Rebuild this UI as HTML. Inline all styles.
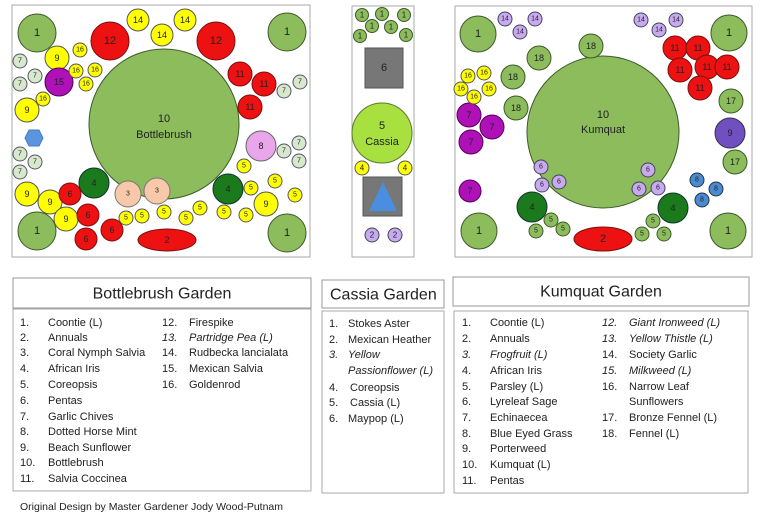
<!DOCTYPE html>
<html><head><meta charset="utf-8"><style>
body{margin:0;background:#fff;}
svg{display:block;font-family:"Liberation Sans",sans-serif;}
.g{fill:#8cbc5c;stroke:#3d5a2c;stroke-width:1}
.r{fill:#ee1111;stroke:#7a1010;stroke-width:1}
.y{fill:#ffff00;stroke:#555;stroke-width:1}
.p{fill:#d8e8cc;stroke:#556;stroke-width:1}
.dg{fill:#1b7a1b;stroke:#133;stroke-width:1}
.pe{fill:#f8c8a8;stroke:#777;stroke-width:1}
.pk{fill:#eaa6ea;stroke:#666;stroke-width:1}
.m{fill:#b010b8;stroke:#505;stroke-width:1}
.l{fill:#c8aaf0;stroke:#445;stroke-width:1}
.b{fill:#4a8ad0;stroke:#234;stroke-width:1}
text{text-anchor:middle;dominant-baseline:central;fill:#222}
.s7 text,.t7{font-size:7px}
.lt{text-anchor:start;dominant-baseline:auto;font-size:11px;fill:#222}
.it{font-style:italic}
</style></head><body>
<svg width="768" height="517" viewBox="0 0 768 517" xmlns="http://www.w3.org/2000/svg">
<!-- garden boxes -->
<rect x="12" y="5" width="298" height="252" fill="#fff" stroke="#aaa"/>
<rect x="352" y="6" width="62" height="251" fill="#fff" stroke="#aaa"/>
<rect x="455" y="6" width="297" height="251" fill="#fff" stroke="#aaa"/>

<!-- LEFT GARDEN -->
<circle class="g" cx="164" cy="124" r="75"/>
<text x="164" y="119" font-size="11">10</text><text x="164" y="135" font-size="11">Bottlebrush</text>
<g font-size="11">
<circle class="g" cx="37" cy="33" r="19"/><text x="37" y="33">1</text>
<circle class="g" cx="287" cy="32" r="19"/><text x="287" y="32">1</text>
<circle class="g" cx="37" cy="231" r="19"/><text x="37" y="231">1</text>
<circle class="g" cx="287" cy="233" r="19"/><text x="287" y="233">1</text>
<circle class="r" cx="110" cy="41" r="19"/><text x="110" y="41">12</text>
<circle class="r" cx="216" cy="41" r="19"/><text x="216" y="41">12</text>
</g>
<g font-size="9">
<circle class="y" cx="138" cy="20" r="11"/><text x="138" y="20">14</text>
<circle class="y" cx="162" cy="35" r="11"/><text x="162" y="35">14</text>
<circle class="y" cx="185" cy="20" r="11"/><text x="185" y="20">14</text>
<circle class="y" cx="57" cy="58" r="12"/><text x="57" y="58">9</text>
<circle class="y" cx="27" cy="110" r="12"/><text x="27" y="110">9</text>
<circle class="y" cx="27" cy="194" r="12"/><text x="27" y="194">9</text>
<circle class="y" cx="50" cy="202" r="12"/><text x="50" y="202">9</text>
<circle class="y" cx="66" cy="219" r="12"/><text x="66" y="219">9</text>
<circle class="y" cx="266" cy="204" r="12"/><text x="266" y="204">9</text>
<circle class="m" cx="59" cy="82" r="14"/><text x="59" y="82">15</text>
<circle class="r" cx="240" cy="74" r="12"/><text x="240" y="74">11</text>
<circle class="r" cx="264" cy="84" r="12"/><text x="264" y="84">11</text>
<circle class="r" cx="250" cy="107" r="12"/><text x="250" y="107">11</text>
<circle class="pk" cx="261" cy="146" r="15"/><text x="261" y="146">8</text>
<circle class="dg" cx="94" cy="183" r="15"/><text x="94" y="183">4</text>
<circle class="dg" cx="228" cy="189" r="15"/><text x="228" y="189">4</text>
<circle class="r" cx="70" cy="194" r="11"/><text x="70" y="194">6</text>
<circle class="r" cx="88" cy="215" r="11"/><text x="88" y="215">6</text>
<circle class="r" cx="86" cy="239" r="11"/><text x="86" y="239">6</text>
<circle class="r" cx="112" cy="230" r="11"/><text x="112" y="230">6</text>
<ellipse class="r" cx="167" cy="240" rx="29" ry="11"/><text x="167" y="240">2</text>
</g>
<g font-size="7">
<circle class="pe" cx="128" cy="194" r="13"/><text x="128" y="194">3</text>
<circle class="pe" cx="157" cy="191" r="13"/><text x="157" y="191">3</text>
<circle class="y" cx="80" cy="50" r="7"/><text x="80" y="50">16</text>
<circle class="y" cx="76" cy="71" r="7"/><text x="76" y="71">16</text>
<circle class="y" cx="95" cy="70" r="7"/><text x="95" y="70">16</text>
<circle class="y" cx="86" cy="84" r="7"/><text x="86" y="84">16</text>
<circle class="y" cx="43" cy="99" r="7"/><text x="43" y="99">16</text>
<circle class="p" cx="20" cy="61" r="7"/><text x="20" y="61">7</text>
<circle class="p" cx="35" cy="76" r="7"/><text x="35" y="76">7</text>
<circle class="p" cx="20" cy="84" r="7"/><text x="20" y="84">7</text>
<circle class="p" cx="20" cy="154" r="7"/><text x="20" y="154">7</text>
<circle class="p" cx="35" cy="162" r="7"/><text x="35" y="162">7</text>
<circle class="p" cx="20" cy="172" r="7"/><text x="20" y="172">7</text>
<circle class="p" cx="284" cy="91" r="7"/><text x="284" y="91">7</text>
<circle class="p" cx="300" cy="82" r="7"/><text x="300" y="82">7</text>
<circle class="p" cx="284" cy="151" r="7"/><text x="284" y="151">7</text>
<circle class="p" cx="299" cy="143" r="7"/><text x="299" y="143">7</text>
<circle class="p" cx="299" cy="161" r="7"/><text x="299" y="161">7</text>
<circle class="y" cx="244" cy="166" r="7"/><text x="244" y="166">5</text>
<circle class="y" cx="251" cy="188" r="7"/><text x="251" y="188">5</text>
<circle class="y" cx="275" cy="181" r="7"/><text x="275" y="181">5</text>
<circle class="y" cx="295" cy="195" r="7"/><text x="295" y="195">5</text>
<circle class="y" cx="246" cy="215" r="7"/><text x="246" y="215">5</text>
<circle class="y" cx="224" cy="212" r="7"/><text x="224" y="212">5</text>
<circle class="y" cx="200" cy="208" r="7"/><text x="200" y="208">5</text>
<circle class="y" cx="186" cy="218" r="7"/><text x="186" y="218">5</text>
<circle class="y" cx="164" cy="212" r="7"/><text x="164" y="212">5</text>
<circle class="y" cx="142" cy="216" r="7"/><text x="142" y="216">5</text>
<circle class="y" cx="126" cy="218" r="7"/><text x="126" y="218">5</text>
</g>
<polygon points="29,130 39,130 43,138 39,146 29,146 25,138" fill="#5b95e0" stroke="#4a7ab8"/>

<!-- MIDDLE GARDEN -->
<g font-size="8">
<circle class="g" cx="362" cy="15" r="6.5"/><text x="362" y="15">1</text>
<circle class="g" cx="382" cy="14" r="6.5"/><text x="382" y="14">1</text>
<circle class="g" cx="404" cy="15" r="6.5"/><text x="404" y="15">1</text>
<circle class="g" cx="372" cy="26" r="6.5"/><text x="372" y="26">1</text>
<circle class="g" cx="391" cy="27" r="6.5"/><text x="391" y="27">1</text>
<circle class="g" cx="360" cy="36" r="6.5"/><text x="360" y="36">1</text>
<circle class="g" cx="406" cy="35" r="6.5"/><text x="406" y="35">1</text>
<circle class="y" cx="362" cy="168" r="7"/><text x="362" y="168">4</text>
<circle class="y" cx="405" cy="168" r="7"/><text x="405" y="168">4</text>
<circle class="l" cx="372" cy="235" r="7"/><text x="372" y="235">2</text>
<circle class="l" cx="395" cy="235" r="7"/><text x="395" y="235">2</text>
</g>
<rect x="365" y="48" width="38" height="40" fill="#777" stroke="#555"/>
<text x="384" y="68" font-size="11">6</text>
<circle cx="382" cy="133" r="30" fill="#a8e040" stroke="#5a7a2a"/>
<text x="382" y="126" font-size="11">5</text><text x="382" y="142" font-size="11">Cassia</text>
<rect x="363" y="177" width="39" height="39" fill="#777" stroke="#555"/>
<polygon points="383,182 397,211 369,211" fill="#4a8ee0"/>

<!-- RIGHT GARDEN -->
<circle class="g" cx="603" cy="132" r="76"/>
<text x="603" y="115" font-size="11">10</text><text x="603" y="130" font-size="11">Kumquat</text>
<g font-size="11">
<circle class="g" cx="478" cy="34" r="18"/><text x="478" y="34">1</text>
<circle class="g" cx="729" cy="33" r="18"/><text x="729" y="33">1</text>
<circle class="g" cx="479" cy="231" r="18"/><text x="479" y="231">1</text>
<circle class="g" cx="728" cy="231" r="18"/><text x="728" y="231">1</text>
<ellipse class="r" cx="603" cy="239" rx="29" ry="12"/><text x="603" y="239">2</text>
</g>
<g font-size="9">
<circle class="g" cx="591" cy="46" r="12"/><text x="591" y="46">18</text>
<circle class="g" cx="539" cy="58" r="12"/><text x="539" y="58">18</text>
<circle class="g" cx="513" cy="77" r="12"/><text x="513" y="77">18</text>
<circle class="g" cx="516" cy="108" r="12"/><text x="516" y="108">18</text>
<circle class="m" cx="469" cy="115" r="12"/><text x="469" y="115">7</text>
<circle class="m" cx="492" cy="127" r="12"/><text x="492" y="127">7</text>
<circle class="m" cx="471" cy="142" r="12"/><text x="471" y="142">7</text>
<circle class="m" cx="470" cy="191" r="11"/><text x="470" y="191">7</text>
<circle class="r" cx="675" cy="48" r="12"/><text x="675" y="48">11</text>
<circle class="r" cx="698" cy="48" r="12"/><text x="698" y="48">11</text>
<circle class="r" cx="680" cy="70" r="12"/><text x="680" y="70">11</text>
<circle class="r" cx="707" cy="67" r="12"/><text x="707" y="67">11</text>
<circle class="r" cx="727" cy="67" r="12"/><text x="727" y="67">11</text>
<circle class="r" cx="700" cy="88" r="12"/><text x="700" y="88">11</text>
<circle class="g" cx="731" cy="101" r="12"/><text x="731" y="101">17</text>
<circle class="g" cx="735" cy="162" r="12"/><text x="735" y="162">17</text>
<circle cx="730" cy="133" r="15" fill="#7050c0" stroke="#334"/><text x="730" y="133">9</text>
<circle class="dg" cx="532" cy="207" r="15"/><text x="532" y="207">4</text>
<circle class="dg" cx="673" cy="208" r="15"/><text x="673" y="208">4</text>
</g>
<g font-size="7">
<circle class="l" cx="505" cy="19" r="7"/><text x="505" y="19">14</text>
<circle class="l" cx="520" cy="32" r="7"/><text x="520" y="32">14</text>
<circle class="l" cx="535" cy="19" r="7"/><text x="535" y="19">14</text>
<circle class="l" cx="641" cy="20" r="7"/><text x="641" y="20">14</text>
<circle class="l" cx="659" cy="30" r="7"/><text x="659" y="30">14</text>
<circle class="l" cx="676" cy="20" r="7"/><text x="676" y="20">14</text>
<circle class="y" cx="468" cy="76" r="7"/><text x="468" y="76">16</text>
<circle class="y" cx="484" cy="73" r="7"/><text x="484" y="73">16</text>
<circle class="y" cx="461" cy="89" r="7"/><text x="461" y="89">16</text>
<circle class="y" cx="489" cy="89" r="7"/><text x="489" y="89">16</text>
<circle class="y" cx="474" cy="97" r="7"/><text x="474" y="97">16</text>
<circle class="l" cx="541" cy="167" r="7"/><text x="541" y="167">6</text>
<circle class="l" cx="542" cy="185" r="7"/><text x="542" y="185">6</text>
<circle class="l" cx="559" cy="182" r="7"/><text x="559" y="182">6</text>
<circle class="l" cx="648" cy="170" r="7"/><text x="648" y="170">6</text>
<circle class="l" cx="639" cy="189" r="7"/><text x="639" y="189">6</text>
<circle class="l" cx="658" cy="188" r="7"/><text x="658" y="188">6</text>
<circle class="b" cx="697" cy="180" r="7"/><text x="697" y="180">8</text>
<circle class="b" cx="716" cy="189" r="7"/><text x="716" y="189">8</text>
<circle class="b" cx="702" cy="200" r="7"/><text x="702" y="200">8</text>
<circle class="g" cx="551" cy="220" r="7"/><text x="551" y="220">5</text>
<circle class="g" cx="536" cy="231" r="7"/><text x="536" y="231">5</text>
<circle class="g" cx="563" cy="229" r="7"/><text x="563" y="229">5</text>
<circle class="g" cx="653" cy="221" r="7"/><text x="653" y="221">5</text>
<circle class="g" cx="642" cy="234" r="7"/><text x="642" y="234">5</text>
<circle class="g" cx="664" cy="234" r="7"/><text x="664" y="234">5</text>
</g>

<!-- LEGEND BOXES -->
<rect x="13" y="278" width="298" height="30" fill="#fff" stroke="#999"/>
<rect x="13" y="309" width="298" height="182" fill="#fff" stroke="#aaa"/>
<text x="162" y="294" font-size="16">Bottlebrush Garden</text>
<rect x="322" y="280" width="122" height="28" fill="#fff" stroke="#999"/>
<rect x="322" y="311" width="122" height="182" fill="#fff" stroke="#aaa"/>
<text x="330" y="295" font-size="16" style="text-anchor:start">Cassia Garden</text>
<rect x="453" y="277" width="296" height="29" fill="#fff" stroke="#999"/>
<rect x="454" y="311" width="294" height="182" fill="#fff" stroke="#aaa"/>
<text x="601" y="292" font-size="16">Kumquat Garden</text>

<g class="lt">
<text class="lt" x="20" y="326">1.</text><text class="lt" x="48" y="326">Coontie (L)</text>
<text class="lt" x="20" y="341">2.</text><text class="lt" x="48" y="341">Annuals</text>
<text class="lt" x="20" y="356">3.</text><text class="lt" x="48" y="356">Coral Nymph Salvia</text>
<text class="lt" x="20" y="372">4.</text><text class="lt" x="48" y="372">African Iris</text>
<text class="lt" x="20" y="388">5.</text><text class="lt" x="48" y="388">Coreopsis</text>
<text class="lt" x="20" y="404">6.</text><text class="lt" x="48" y="404">Pentas</text>
<text class="lt" x="20" y="420">7.</text><text class="lt" x="48" y="420">Garlic Chives</text>
<text class="lt" x="20" y="435">8.</text><text class="lt" x="48" y="435">Dotted Horse Mint</text>
<text class="lt" x="20" y="451">9.</text><text class="lt" x="48" y="451">Beach Sunflower</text>
<text class="lt" x="20" y="466">10.</text><text class="lt" x="48" y="466">Bottlebrush</text>
<text class="lt" x="20" y="482">11.</text><text class="lt" x="48" y="482">Salvia Coccinea</text>
<text class="lt" x="162" y="326">12.</text><text class="lt" x="189" y="326">Firespike</text>
<text class="lt it" x="162" y="341">13.</text><text class="lt it" x="189" y="341">Partridge Pea (L)</text>
<text class="lt" x="162" y="356">14.</text><text class="lt" x="189" y="356">Rudbecka lancialata</text>
<text class="lt" x="162" y="372">15.</text><text class="lt" x="189" y="372">Mexican Salvia</text>
<text class="lt" x="162" y="388">16.</text><text class="lt" x="189" y="388">Goldenrod</text>

<text class="lt" x="329" y="327">1.</text><text class="lt" x="348" y="327">Stokes Aster</text>
<text class="lt" x="329" y="343">2.</text><text class="lt" x="348" y="343">Mexican Heather</text>
<text class="lt it" x="329" y="358">3.</text><text class="lt it" x="348" y="358">Yellow</text>
<text class="lt it" x="348" y="374">Passionflower (L)</text>
<text class="lt" x="329" y="391">4.</text><text class="lt" x="350" y="391">Coreopsis</text>
<text class="lt" x="329" y="406">5.</text><text class="lt" x="350" y="406">Cassia (L)</text>
<text class="lt" x="329" y="422">6.</text><text class="lt" x="348" y="422">Maypop (L)</text>

<text class="lt" x="462" y="326">1.</text><text class="lt" x="490" y="326">Coontie (L)</text>
<text class="lt" x="462" y="342">2.</text><text class="lt" x="490" y="342">Annuals</text>
<text class="lt it" x="462" y="358">3.</text><text class="lt it" x="490" y="358">Frogfruit (L)</text>
<text class="lt" x="462" y="374">4.</text><text class="lt" x="490" y="374">African Iris</text>
<text class="lt" x="462" y="390">5.</text><text class="lt" x="490" y="390">Parsley (L)</text>
<text class="lt" x="462" y="405">6.</text><text class="lt" x="490" y="405">Lyreleaf Sage</text>
<text class="lt" x="462" y="421">7.</text><text class="lt" x="490" y="421">Echinaecea</text>
<text class="lt" x="462" y="437">8.</text><text class="lt" x="490" y="437">Blue Eyed Grass</text>
<text class="lt" x="462" y="452">9.</text><text class="lt" x="490" y="452">Porterweed</text>
<text class="lt" x="462" y="468">10.</text><text class="lt" x="490" y="468">Kumquat (L)</text>
<text class="lt" x="462" y="484">11.</text><text class="lt" x="490" y="484">Pentas</text>
<text class="lt it" x="602" y="326">12.</text><text class="lt it" x="629" y="326">Giant Ironweed (L)</text>
<text class="lt it" x="602" y="342">13.</text><text class="lt it" x="629" y="342">Yellow Thistle (L)</text>
<text class="lt" x="602" y="358">14.</text><text class="lt" x="629" y="358">Society Garlic</text>
<text class="lt it" x="602" y="374">15.</text><text class="lt it" x="629" y="374">Milkweed (L)</text>
<text class="lt" x="602" y="390">16.</text><text class="lt" x="629" y="390">Narrow Leaf</text>
<text class="lt" x="629" y="405">Sunflowers</text>
<text class="lt" x="602" y="421">17.</text><text class="lt" x="629" y="421">Bronze Fennel (L)</text>
<text class="lt" x="602" y="437">18.</text><text class="lt" x="629" y="437">Fennel (L)</text>
</g>
<text class="lt" x="20" y="510" style="font-size:10.5px">Original Design by Master Gardener Jody Wood-Putnam</text>
</svg>
</body></html>
